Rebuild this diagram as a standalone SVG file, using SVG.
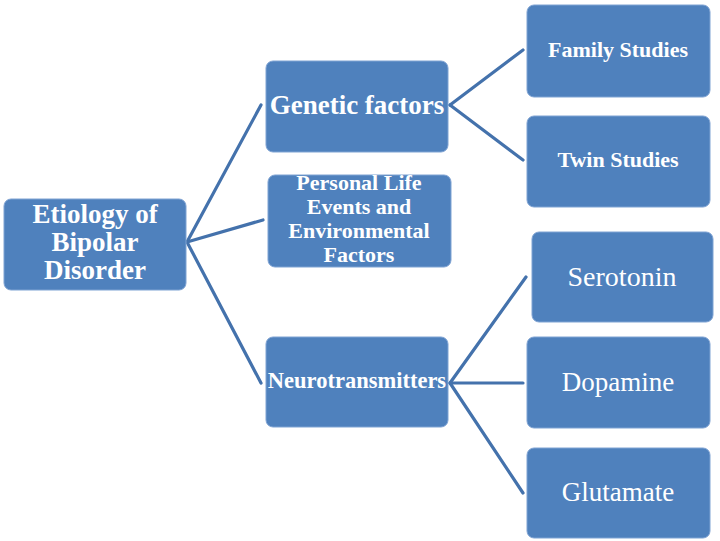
<svg xmlns="http://www.w3.org/2000/svg" width="720" height="541" viewBox="0 0 720 541">
<style>
.box{fill:#4F81BD;stroke:#7FA3D3;stroke-width:1}
.t{fill:#FFFFFF;font-family:"Liberation Serif","Times New Roman",serif;text-anchor:middle}
.b{font-weight:bold}
.c{stroke:#4472AC;stroke-width:3.2;fill:none;stroke-linecap:round}
</style>
<rect width="720" height="541" fill="#FFFFFF"/>
<g id="connectors">
<line class="c" x1="187" y1="242" x2="261" y2="105"/>
<line class="c" x1="187" y1="242" x2="263" y2="220"/>
<line class="c" x1="187" y1="242" x2="261" y2="383"/>
<line class="c" x1="450" y1="105" x2="523" y2="50"/>
<line class="c" x1="450" y1="105" x2="523" y2="160"/>
<line class="c" x1="450" y1="383" x2="526" y2="277"/>
<line class="c" x1="450" y1="383" x2="523" y2="383"/>
<line class="c" x1="450" y1="383" x2="523" y2="493"/>
</g>
<g id="root">
<rect class="box" x="4" y="199" width="182" height="91" rx="7"/>
<text class="t b" x="95" y="223" font-size="27">Etiology of</text>
<text class="t b" x="95" y="251" font-size="27">Bipolar</text>
<text class="t b" x="95" y="279" font-size="27">Disorder</text>
</g>
<g id="genetic">
<rect class="box" x="266" y="61" width="182" height="91" rx="7"/>
<text class="t b" x="357" y="114" font-size="27">Genetic factors</text>
</g>
<g id="personal">
<rect class="box" x="268" y="175" width="183" height="92" rx="7"/>
<text class="t b" x="359" y="190" font-size="22">Personal Life</text>
<text class="t b" x="359" y="214" font-size="22">Events and</text>
<text class="t b" x="359" y="238" font-size="22">Environmental</text>
<text class="t b" x="359" y="262" font-size="22">Factors</text>
</g>
<g id="neuro">
<rect class="box" x="266" y="337" width="182" height="90" rx="7"/>
<text class="t b" x="357" y="388" font-size="22.5">Neurotransmitters</text>
</g>
<g id="family">
<rect class="box" x="527" y="5" width="183" height="92" rx="7"/>
<text class="t b" x="618" y="57" font-size="22">Family Studies</text>
</g>
<g id="twin">
<rect class="box" x="527" y="116" width="183" height="91" rx="7"/>
<text class="t b" x="618" y="167" font-size="22">Twin Studies</text>
</g>
<g id="serotonin">
<rect class="box" x="532" y="232" width="181" height="90" rx="7"/>
<text class="t" x="622" y="286" font-size="28">Serotonin</text>
</g>
<g id="dopamine">
<rect class="box" x="527" y="337" width="183" height="91" rx="7"/>
<text class="t" x="618" y="391" font-size="27">Dopamine</text>
</g>
<g id="glutamate">
<rect class="box" x="527" y="448" width="183" height="90" rx="7"/>
<text class="t" x="618" y="501" font-size="27">Glutamate</text>
</g>
</svg>
